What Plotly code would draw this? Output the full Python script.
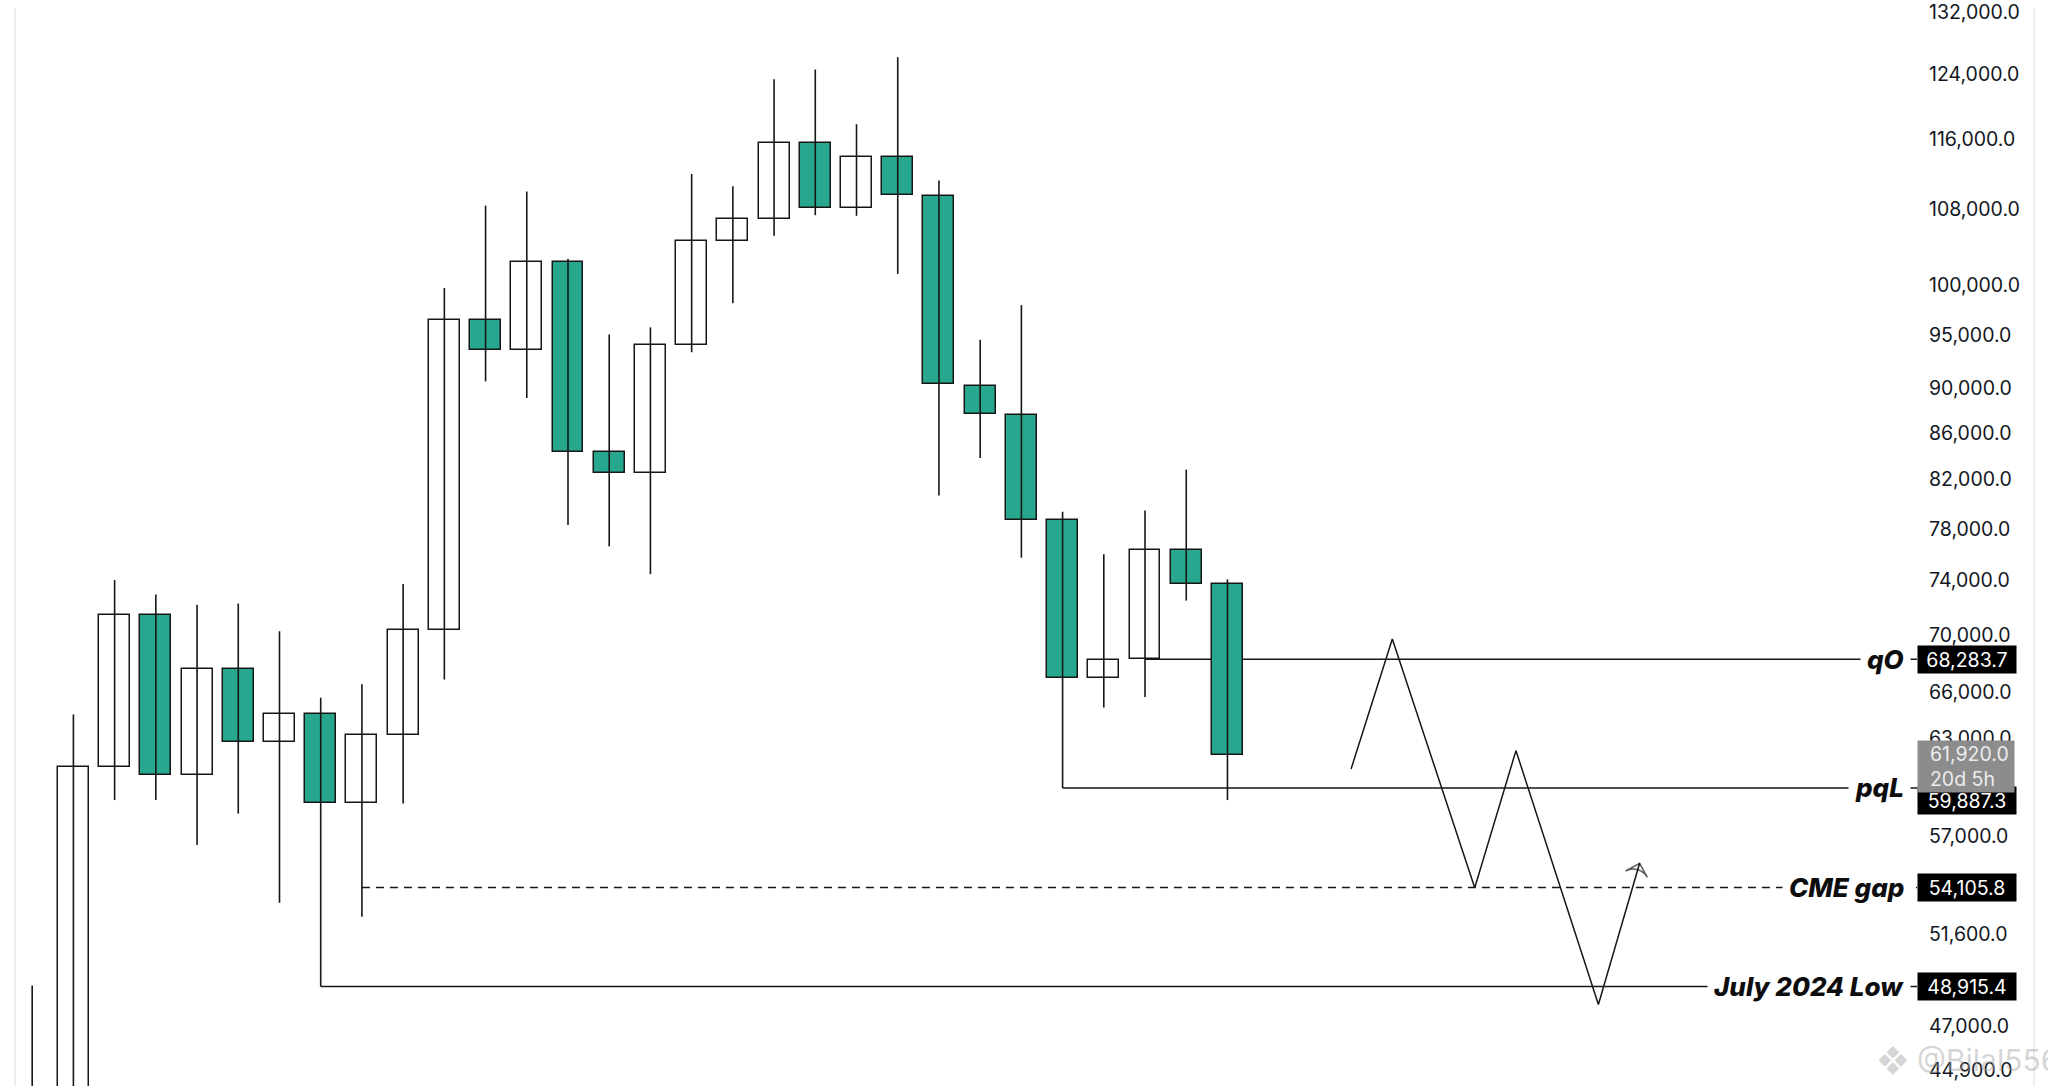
'''
Monthly BTC candles with quarterly levels and a projected path
'''

import math
import plotly.graph_objects as go

months = [
    'Jan 2024', 'Feb 2024', 'Mar 2024', 'Apr 2024', 'May 2024', 'Jun 2024',
    'Jul 2024', 'Aug 2024', 'Sep 2024', 'Oct 2024', 'Nov 2024', 'Dec 2024',
    'Jan 2025', 'Feb 2025', 'Mar 2025', 'Apr 2025', 'May 2025', 'Jun 2025',
    'Jul 2025', 'Aug 2025', 'Sep 2025', 'Oct 2025', 'Nov 2025', 'Dec 2025',
    'Jan 2026', 'Feb 2026', 'Mar 2026', 'Apr 2026', 'May 2026', 'Jun 2026',
    'Jul 2026', 'Aug 2026', 'Sep 2026', 'Oct 2026', 'Nov 2026', 'Dec 2026',
    'Jan 2027', 'Feb 2027', 'Mar 2027', 'Apr 2027',
]

opens = [42280, 42580, 61200, 71450, 60680, 67600, 62760, 64600, 58990, 63230,
         70380, 96490, 93590, 102400, 84370, 82560, 94030, 104570, 106960, 115570,
         108210, 113930, 109470, 90250, 87600, 78660, 66990, 68283.7, 76320, 73740]
highs = [48970, 64540, 74020, 72950, 72180, 72270, 70260, 65660, 66560, 73720,
         99700, 108420, 109990, 102700, 95080, 95770, 111980, 110590, 123320, 124560,
         117800, 126140, 111230, 94560, 97970, 79370, 75990, 79470, 82840, 74070]
lows = [38560, 41900, 59150, 59150, 56510, 58340, 53270, 48915.4, 52520, 58950,
        66880, 90640, 89120, 78300, 76610, 74470, 93370, 98150, 105130, 107370,
        107300, 101130, 80690, 83830, 75730, 59887.3, 65010, 65710, 72490, 59150]
closes = [42580, 61200, 71450, 60680, 67600, 62760, 64600, 58990, 63230, 70380,
          96490, 93590, 102400, 84370, 82560, 94030, 104570, 106960, 115570, 108210,
          113930, 109580, 90410, 87640, 78730, 66990, 68200, 76320, 73740, 61920]

# horizontal levels: label, price, month where the line starts, dashed or not
level_names = ['qO', 'pqL', 'CME gap', 'July 2024 Low']
level_prices = [68283.7, 59887.3, 54105.8, 48915.4]
level_starts = ['Apr 2026', 'Feb 2026', 'Sep 2024', 'Aug 2024']
level_dashed = [False, False, True, False]

# hand drawn projection
path_months = ['Sep 2026', 'Oct 2026', 'Dec 2026', 'Jan 2027', 'Mar 2027', 'Apr 2027']
path_prices = [61060, 69700, 54100, 62210, 48030, 55460]

last_price = 61920.0
countdown = '20d 5h'

tick_vals = [132000, 124000, 116000, 108000, 100000, 95000, 90000, 86000, 82000,
             78000, 74000, 70000, 66000, 63000, 57000, 51600, 47000, 44900]

TEAL = '#27a88e'
INK = '#161616'

x = list(range(len(opens)))
pos = {m: i for i, m in enumerate(months)}

fig = go.Figure()

# wicks
wx, wy = [], []
for i in x:
    wx += [i, i, None]
    wy += [lows[i], highs[i], None]
fig.add_trace(go.Scatter(x=wx, y=wy, mode='lines', line=dict(color=INK, width=1.6),
                         hoverinfo='skip', showlegend=False))

# bodies
fig.add_trace(go.Bar(
    x=x,
    base=[min(o, c) for o, c in zip(opens, closes)],
    y=[abs(c - o) for o, c in zip(opens, closes)],
    width=0.75,
    marker=dict(color=[TEAL if c < o else 'white' for o, c in zip(opens, closes)],
                line=dict(color=INK, width=1.5)),
    customdata=months[:len(opens)],
    hoverinfo='skip',
    showlegend=False,
))

# projection path with arrow head
fig.add_trace(go.Scatter(
    x=[pos[m] for m in path_months], y=path_prices,
    mode='lines+markers',
    line=dict(color=INK, width=1.5),
    marker=dict(size=[0] * (len(path_prices) - 1) + [16],
                symbol='arrow-wide-open', angleref='previous',
                color=INK, line=dict(color=INK, width=1.5)),
    hoverinfo='skip', showlegend=False,
))

x_range = [-0.781, 45.73]

for name, price, start, dashed in zip(level_names, level_prices, level_starts, level_dashed):
    fig.add_shape(type='line', xref='x', yref='y', x0=pos[start], x1=x_range[1],
                  y0=price, y1=price, layer='below',
                  line=dict(color=INK, width=1.5, dash='8px,6px' if dashed else 'solid'))
    # annotations on a log axis take log10 positions
    fig.add_annotation(xref='paper', x=1, xanchor='right', xshift=-6,
                       yref='y', y=math.log10(price),
                       text=name, showarrow=False,
                       font=dict(family='Inter', size=26, color='#0d0d0d',
                                 weight=800, style='italic'),
                       bgcolor='white', borderpad=6)

# price tags on the axis
tag_shift = {59887.3: -13}
for price in level_prices:
    fig.add_annotation(xref='paper', x=1, xanchor='left',
                       yref='y', y=math.log10(price), yshift=tag_shift.get(price, 0),
                       text=f'{price:,.1f}', showarrow=False, align='center',
                       width=94, height=23, borderpad=2, bgcolor='black',
                       font=dict(family='Inter', size=19.5, color='white'))

fig.add_annotation(xref='paper', x=1, xanchor='left',
                   yref='y', y=math.log10(last_price), yshift=-11,
                   text=f'&nbsp;&nbsp;{last_price:,.1f}<br>&nbsp;&nbsp;{countdown}',
                   showarrow=False, align='left', width=94, borderpad=1,
                   bgcolor='#8c8c8c', font=dict(family='Inter', size=19.5, color='#ececec'))

# watermark
fig.add_annotation(xref='paper', yref='paper', x=0.978, y=0.024,
                   xanchor='left', yanchor='middle',
                   text='❖ @Bilal5566', showarrow=False,
                   font=dict(family='Inter', size=30, color='rgba(160,160,160,0.45)'))

# faint frame edges of the screenshot
for xp in [15 / 1917, 2034 / 1917]:
    fig.add_shape(type='line', xref='paper', yref='paper', x0=xp, x1=xp, y0=0, y1=1,
                  line=dict(color='#eeeeee', width=2), layer='below')

fig.update_layout(
    width=2048, height=1086,
    margin=dict(l=0, r=131, t=0, b=0),
    plot_bgcolor='white', paper_bgcolor='white',
    bargap=0, showlegend=False,
    xaxis=dict(range=x_range, visible=False, fixedrange=True),
    yaxis=dict(type='log', range=[4.6454, 5.1226], side='right',
               tickvals=tick_vals, tickformat=',.1f',
               showgrid=False, zeroline=False, showline=False, ticks='',
               ticklabelstandoff=11, ticklabeloverflow='allow',
               tickfont=dict(family='Inter', size=19.5, color='#131722')),
)

# drop the default page margin so the chart sits at the window's corner
fig.write_html('out.html', config={'displayModeBar': False},
               post_script="document.body.style.margin = '0';")
